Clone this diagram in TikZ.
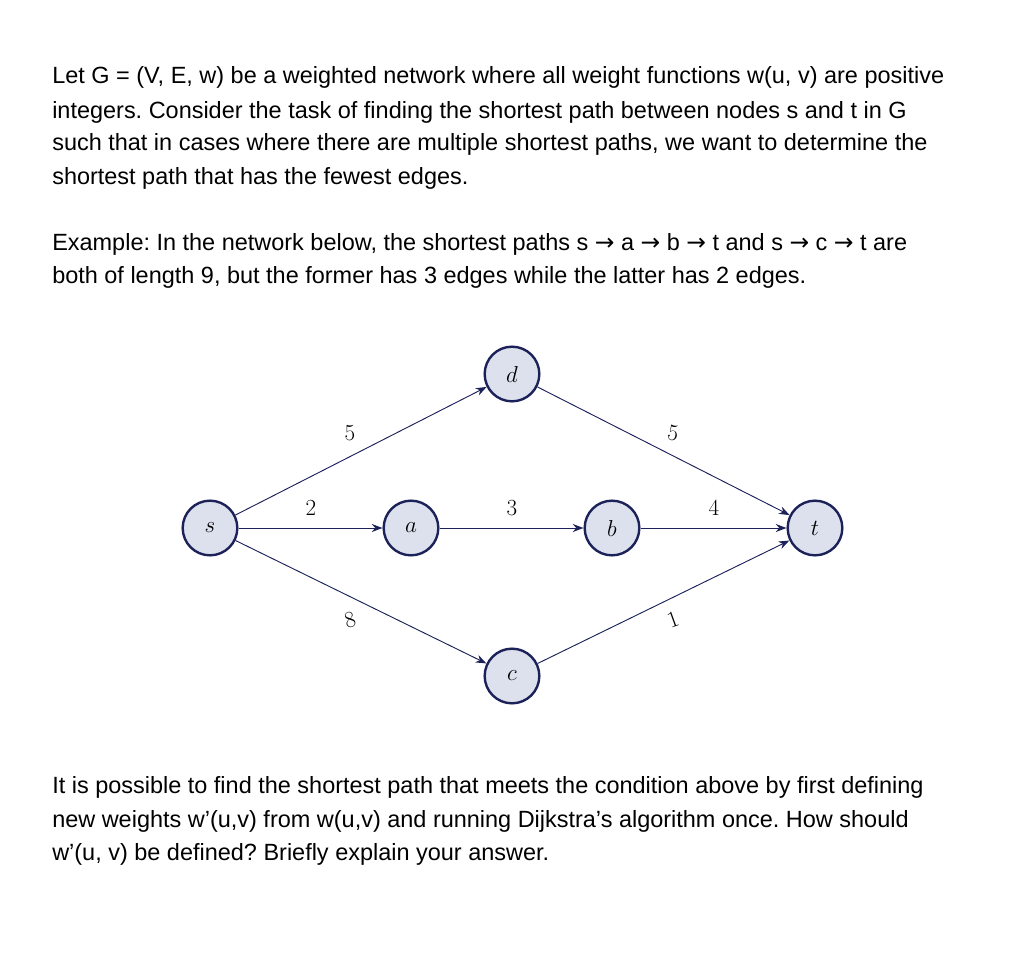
\documentclass[tikz,border=0pt]{standalone}
\usepackage{fontspec}
\setmainfont{Liberation Sans}
\newfontfamily\arrowfont{DejaVu Sans}
\usetikzlibrary{arrows.meta}
\frenchspacing
\newcommand{\ra}{{\arrowfont\char"2192}}
\definecolor{navy}{HTML}{1C2159}
\definecolor{nodefill}{HTML}{DCE1ED}
\begin{document}
\begin{tikzpicture}[x=0.75pt,y=-0.75pt,
  txt/.style={anchor=base west,inner sep=0,font=\fontsize{17.6}{20}\selectfont},
  vert/.style={circle,draw=navy,fill=nodefill,line width=1.8pt,minimum size=41pt,inner sep=0,font=\fontsize{17}{20}\selectfont},
  edge/.style={draw=navy,line width=0.7pt,-{Stealth[length=8pt,width=6pt]}},
  wt/.style={font=\fontsize{17}{20}\selectfont,inner sep=0}]
\useasboundingbox (0,0) rectangle (1036,956);
\node[txt] (l1) at (52,84) {Let G = (V, E, w) be a weighted network where all weight functions w(u, v) are positive};
\node[txt] (l2) at (52,118) {integers. Consider the task of finding the shortest path between nodes s and t in G};
\node[txt] (l3) at (52,151) {such that in cases where there are multiple shortest paths, we want to determine the};
\node[txt] (l4) at (52,185) {shortest path that has the fewest edges.};
\node[txt] (l5) at (52,250) {Example: In the network below, the shortest paths s \ra{} a \ra{} b \ra{} t and s \ra{} c \ra{} t are};
\node[txt] (l6) at (52,283) {both of length 9, but the former has 3 edges while the latter has 2 edges.};
\node[txt] (l7) at (52,793) {It is possible to find the shortest path that meets the condition above by first defining};
\node[txt] (l8) at (52,827) {new weights w'(u,v) from w(u,v) and running Dijkstra's algorithm once. How should};
\node[txt] (l9) at (52,860) {w'(u, v) be defined? Briefly explain your answer.};

\node[vert] (s) at (210,528) {$s$};
\node[vert] (a) at (411,528) {$a$};
\node[vert] (b) at (612,528) {$b$};
\node[vert] (t) at (815,528) {$t$};
\node[vert] (d) at (512,374) {$d$};
\node[vert] (c) at (512,676) {$c$};

\draw[edge] (s) -- (d);
\draw[edge] (s) -- (a);
\draw[edge] (s) -- (c);
\draw[edge] (a) -- (b);
\draw[edge] (b) -- (t);
\draw[edge] (d) -- (t);
\draw[edge] (c) -- (t);

\node[wt] (w1) at (350,433) {$5$};
\node[wt] (w2) at (311,508) {$2$};
\node[wt] (w3) at (512,508) {$3$};
\node[wt] (w4) at (714,508) {$4$};
\node[wt,rotate=-10] (w5) at (673,433) {$5$};
\node[wt,rotate=15] (w6) at (350,620) {$8$};
\node[wt,rotate=20] (w7) at (673,620) {$1$};
\end{tikzpicture}
\end{document}
